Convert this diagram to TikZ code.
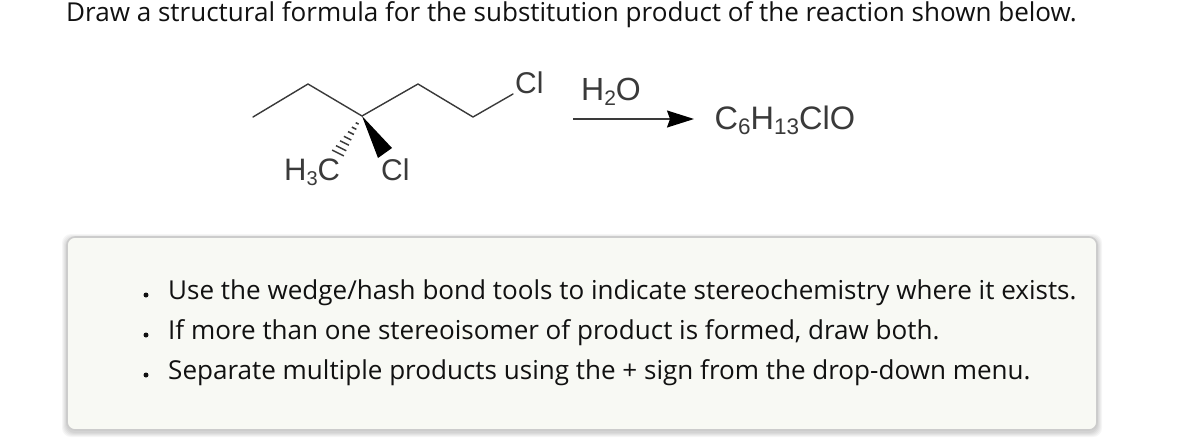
\documentclass[tikz,border=0pt]{standalone}
\usepackage{fontspec}
\setmainfont{Open Sans}
\newfontfamily\chem{Liberation Sans}
\usetikzlibrary{arrows.meta,calc}
\definecolor{chemgray}{HTML}{3A3A3A}
\definecolor{panelfill}{HTML}{F8F9F4}
\definecolor{panelline}{HTML}{CCCCCC}
\definecolor{txt}{HTML}{111111}
\tikzset{
  bond/.style={draw=chemgray,line width=1.4pt,line cap=round,line join=round},
  chemlabel/.style={font=\chem\fontsize{31}{32}\selectfont,text=chemgray,inner sep=0pt,anchor=base west},
  info/.style={font=\fontsize{26.05}{30}\selectfont,text=txt,inner sep=0pt,anchor=base west},
  bulletdot/.style={circle,fill=txt,draw=none,inner sep=0pt,minimum size=5pt},
  panel/.style={rounded corners=8pt,fill=panelfill,draw=panelline,line width=1.6pt},
  shade/.style={rounded corners=9pt,fill=black,draw=none,opacity=.035},
  rxnarrow/.style={draw=chemgray,line width=1.4pt,-{Stealth[length=27pt,width=17pt,inset=3pt,black]}},
  hashline/.style={draw=chemgray,line width=1.5pt}
}
\begin{document}
\begin{tikzpicture}[x=1pt,y=-1pt]
\useasboundingbox (0,0) rectangle (1196,440);
\fill[white] (0,0) rectangle (1196,440);
\node[info] (title) at (66,21) {Draw a structural formula for the substitution product of the reaction shown below.};
% molecule
\coordinate (c1) at (253,117);
\coordinate (c2) at (308,84);
\coordinate (c3) at (362,116);
\coordinate (c4) at (418,84);
\coordinate (c5) at (473,117);
\coordinate (c6) at (513,94);
\node[chemlabel] (cl1) at (515,93) {\fontsize{30}{32}\selectfont Cl};
\node[chemlabel] (me) at (284,180) {H\raisebox{-5pt}{\fontsize{20}{20}\selectfont 3}C};
\node[chemlabel] (cl2) at (381,180) {\fontsize{30}{32}\selectfont Cl};
\draw[bond] (c1) -- (c2) -- (c3) -- (c4) -- (c5) -- (c6);
\coordinate (w1) at (378,158);
\coordinate (w2) at (392,148);
\coordinate (hashend) at (338,153);
\fill[black] (c3) -- (w1) -- (w2) -- cycle;
\foreach \t/\w in {.2/1.6,.33/2.5,.46/3.3,.6/4.1,.73/4.9,.87/5.7,1/6.5}{
  \draw[hashline]
    ($(c3)!\t!(hashend)+(-\w*.9,-\w*.45)$) -- ($(c3)!\t!(hashend)+(\w*.9,\w*.45)$);
}
% reaction
\node[chemlabel] (water) at (581,100) {\fontsize{32}{32}\selectfont H\raisebox{-5pt}{\fontsize{21}{21}\selectfont 2}O};
\node[chemlabel] (prod) at (714.5,129.5) {\fontsize{32.5}{32}\selectfont C\raisebox{-5pt}{\fontsize{22.5}{22}\selectfont 6}H\raisebox{-5pt}{\fontsize{22.5}{22}\selectfont 13}ClO};
\coordinate (a1) at (573,119);
\coordinate (a2) at (694,119);
\draw[rxnarrow] (a1) -- (a2);
% panel
\foreach \d in {5,4,3,2,1}{
  \fill[shade] (67-\d,237-\d+2) rectangle (1097+\d,430+\d+2);
}
\draw[panel] (67,237) rectangle (1097,430);
\node[bulletdot] (b1) at (146,295) {};
\node[bulletdot] (b2) at (146,335) {};
\node[bulletdot] (b3) at (146,375) {};
\node[info] (t1) at (168,299.5) {Use the wedge/hash bond tools to indicate stereochemistry where it exists.};
\node[info] (t2) at (168,339.5) {If more than one stereoisomer of product is formed, draw both.};
\node[info] (t3) at (168,379.5) {Separate multiple products using the + sign from the drop-down menu.};
\end{tikzpicture}
\end{document}
